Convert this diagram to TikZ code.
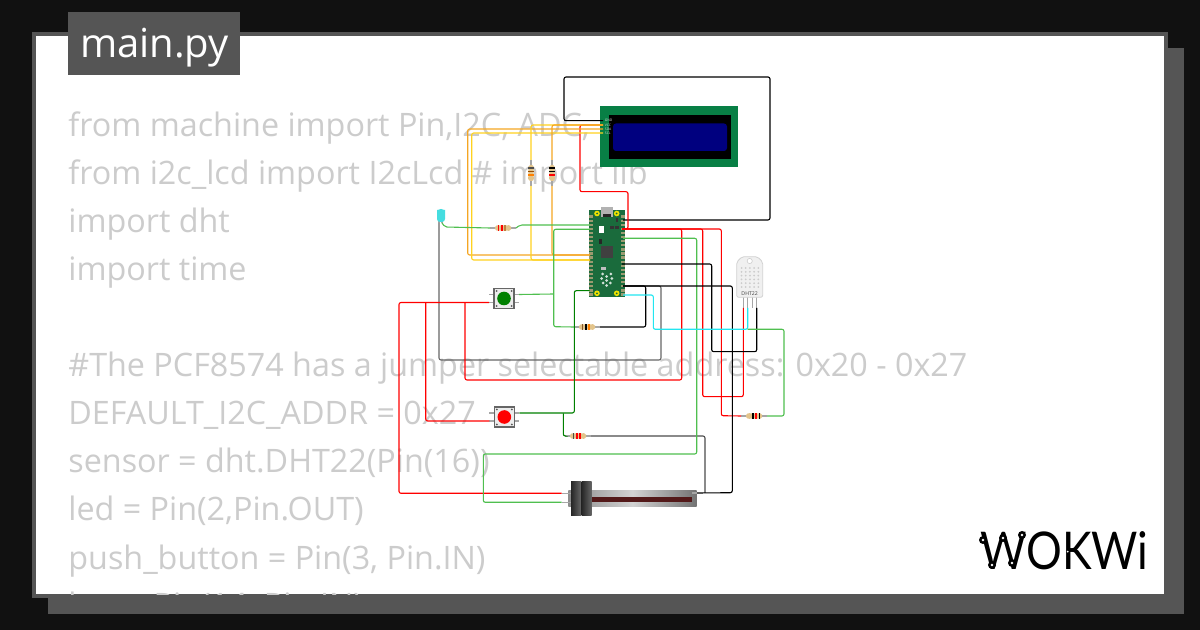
\documentclass[tikz,border=0pt]{standalone}
\usepackage{fontspec}
\setmainfont{Open Sans}
\newfontfamily\logofont{Lato}
\usetikzlibrary{calc}

\definecolor{framegray}{HTML}{555555}
\definecolor{pagedark}{HTML}{111111}
\definecolor{codegray}{HTML}{CCCCCC}
\definecolor{lcdgreen}{HTML}{087F45}
\definecolor{lcdblue}{HTML}{00007F}
\definecolor{picogreen}{HTML}{1A6B3C}
\definecolor{wiregreen}{HTML}{4FBF4F}
\definecolor{darkwire}{HTML}{008000}
\definecolor{wireyellow}{HTML}{FFD21F}
\definecolor{wireorange}{HTML}{F5A623}
\definecolor{wirecyan}{HTML}{22E6F0}
\definecolor{restan}{HTML}{E3C48B}
\definecolor{ledcyan}{HTML}{45DDE0}
\definecolor{padgray}{HTML}{9A9A70}

\tikzset{
  codeline/.style={anchor=base west,inner sep=0pt,text=codegray,font=\fontsize{16.15}{16}\selectfont},
  wire/.style={rounded corners=1pt,line width=.55pt},
  pin lead/.style={line width=.6pt,color=gray!70},
  pics/resist/.style n args={4}{code={
    \draw[pin lead] (-13,0) -- (13,0);
    \fill[restan,rounded corners=.8pt] (-8,-2.6) rectangle (8,2.6);
    \fill[#1] (-5.5,-2.6) rectangle (-3.6,2.6);
    \fill[#2] (-2.4,-2.6) rectangle (-.5,2.6);
    \fill[#3] (.7,-2.6) rectangle (2.6,2.6);
    \fill[#4] (4.5,-2.6) rectangle (6.2,2.6);
    \coordinate (-a) at (-13,0);
    \coordinate (-b) at (13,0);
  }},
  pics/pushbtn/.style={code={
    \draw[pin lead,line width=.8pt] (-15,-4) -- (15,-4) (-15,4) -- (15,4);
    \draw[gray!80!black,line width=.8pt,fill=gray!15] (-10,-10) rectangle (10,10);
    \fill[#1] (0,0) circle (6.8);
    \foreach \cx in {-7.5,7.5} \foreach \cy in {-7.5,7.5} \fill[gray!70!black] (\cx,\cy) circle (1);
    \coordinate (-l1) at (-15,-4);
    \coordinate (-l2) at (-15,4);
    \coordinate (-r1) at (15,-4);
    \coordinate (-r2) at (15,4);
  }}
}

\begin{document}
\begin{tikzpicture}[x=.5pt,y=-.5pt]
  \useasboundingbox (0,0) rectangle (1200,630);

  % Page and frame
  \fill[pagedark] (0,0) rectangle (1200,630);
  \fill[framegray] (48,48) rectangle (1184,614);
  \fill[white,draw=framegray,line width=2pt] (34,34) rectangle (1166,596);

  % Code behind the circuit
  \begin{scope}
    \clip (36,36) rectangle (1164,594);
    \node[codeline] (code1) at (68,137) {from machine import Pin,I2C, ADC,};
    \node[codeline] (code2) at (68,185) {from i2c\_lcd import I2cLcd \# import lib};
    \node[codeline] (code3) at (68,233) {import dht};
    \node[codeline] (code4) at (68,281) {import time};
    \node[codeline] (code6) at (68,377) {\#The PCF8574 has a jumper selectable address: 0x20 - 0x27};
    \node[codeline] (code7) at (68,425) {DEFAULT\_I2C\_ADDR = 0x27};
    \node[codeline] (code8) at (68,473) {sensor = dht.DHT22(Pin(16))};
    \node[codeline] (code9) at (68,521) {led = Pin(2,Pin.OUT)};
    \node[codeline] (code10) at (68,569) {push\_button = Pin(3, Pin.IN)};
    \node[codeline] (code11) at (68,617) {key = Pin(14, Pin.IN)};
  \end{scope}

  % Title tab
  \fill[framegray] (68,12) rectangle (240,75);
  \node[anchor=base,text=white,inner sep=0pt,font=\fontsize{20}{20}\selectfont] (title) at (154.5,58) {main.py};

  % LCD
  \fill[lcdgreen] (600,106) rectangle (737.5,167.5);
  \fill[black] (609,115.5) rectangle (731,159);
  \fill[lcdblue,rounded corners=1.5pt] (613,123.5) rectangle (727,151);
  \foreach \ly/\lt in {120.5/GND,125/VCC,129/SDA,133/SCL}
    \node[text=white!85!black,inner sep=0pt,anchor=west,font=\fontsize{1.7}{2}\selectfont] at (604.5,\ly) {\lt};

  % Pico board
  \fill[picogreen] (589,210) rectangle (624.5,297);
  \foreach \py in {0,...,19} {
    \fill[padgray] (589,{215.5+\py*4.1}) rectangle (592.5,{217.8+\py*4.1});
    \fill[padgray] (621,{215.5+\py*4.1}) rectangle (624.5,{217.8+\py*4.1});
  }
  \fill[gray!60] (601,206.7) rectangle (612.7,217);
  \fill[gray!30!black] (603,214) rectangle (610.5,217);
  \foreach \hx/\hy in {597/213.5,616.7/213.5,597/293.3,616.7/293.3} {
    \fill[yellow!85!olive] (\hx,\hy) circle (2.8);
    \fill[picogreen] (\hx,\hy) circle (1);
  }
  \fill[white] (598.5,226) rectangle (603.5,233);
  \fill[black!85] (598.5,239) rectangle (601.5,244.5);
  \fill[black!80] (610,226) rectangle (613.5,229.5);
  \fill[black!80] (615,226) rectangle (618.5,229.5);
  \fill[black!80] (615.5,218) rectangle (618,222);
  \fill[black!75] (600.5,246.5) rectangle (612.5,258.5);
  \fill[gray!50] (600.5,267) rectangle (605.5,270.5);
  \foreach \rx/\ry in {602.5/274,610.9/274,606.7/276.5,601.5/278.5,606.7/280.5,611.9/278.5,603/283,610.4/283,606.7/285.5}
    \fill[white!80!picogreen] (\rx,\ry) circle (1.5);

  % Named pin ends
  \coordinate (gnd3V) at (623,220);
  \coordinate (vbus) at (622,229);
  \coordinate (ledPin) at (590,225);
  \coordinate (btnPin) at (590,229.3);
  \coordinate (sclPin) at (590,255);
  \coordinate (sdaPin) at (590,260);
  \coordinate (redPin) at (589.5,290.7);
  \coordinate (adcPin) at (623,238.3);
  \coordinate (gndA) at (622,264);
  \coordinate (gndB) at (623,286);
  \coordinate (dhtPin) at (623,295);
  \coordinate (lcdGnd) at (603,120.7);
  \coordinate (lcdVcc) at (603,125);
  \coordinate (lcdSda) at (603,129);
  \coordinate (lcdScl) at (603,133);
  \coordinate (dhtVcc) at (743.3,308);
  \coordinate (dhtData) at (747.7,308);
  \coordinate (dhtGnd) at (756.7,308);
  \coordinate (ledA) at (442,223);
  \coordinate (ledC) at (439,223);
  \coordinate (sldVcc) at (561.7,493.3);
  \coordinate (sldSig) at (561.7,502.3);
  \coordinate (sldGnd) at (697,493);

  % Parts that wires end on
  \pic (rA) at (531,173) [rotate=-90] {resist={black!70}{orange!60!black}{orange}{restan}};
  \pic (rB) at (552,173) [rotate=-90] {resist={black}{black}{red}{restan}};
  \pic (rLed) at (503,228) {resist={red}{red}{brown}{restan}};
  \pic (rBtn) at (587,327) {resist={brown!70!black}{black}{orange}{restan}};
  \pic (rKey) at (578,436) {resist={black!70}{red}{red}{restan}};
  \pic (rDht) at (754,416) {resist={restan}{black}{red}{black}};
  \pic (btnG) at (504,298.5) {pushbtn=green!50!black};
  \pic (btnR) at (504.3,417) {pushbtn=red};

  % LED
  \draw[pin lead] (ledC) -- ++(0,-5) (ledA) -- ++(0,-5);
  \fill[ledcyan,rounded corners=1.5pt] (437,222) -- (437,213) arc[start angle=180,end angle=360,radius=4] -- (445,222) -- cycle;

  % DHT22
  \draw[pin lead] (743.3,296) -- (dhtVcc) (dhtData) -- (747.7,296) (752.3,296) -- (752.3,308) (dhtGnd) -- (756.7,296);
  \fill[gray!12,draw=gray!35,line width=.4pt,rounded corners=1pt]
    (736.7,262) -- (742,256.7) -- (757.5,256.7) -- (762.7,262) -- (762.7,297.3) -- (736.7,297.3) -- cycle;
  \fill[white,draw=gray!40,line width=.3pt] (749.7,261) circle (2.6);
  \foreach \gx in {0,...,4} \foreach \gy in {0,...,5}
    \fill[gray!40] ({741.5+\gx*4.2},{268+\gy*3.8}) circle (1);
  \node[inner sep=0pt,text=gray!50!black,font=\fontsize{2.6}{3}\selectfont] (dhtLabel) at (749.7,293.5) {DHT22};

  % Slider
  \shade[left color=gray!90,right color=gray!90!black,middle color=gray!35] (568.3,491) rectangle (696.7,506.7);
  \fill[black!75!red!90!white] (590.7,496.7) rectangle (691.7,501.7);
  \draw[pin lead] (sldVcc) -- (572,493.3) (sldSig) -- (572,502.3) (sldGnd) -- (692,493);
  \shade[left color=black!85,right color=black!60] (571,482) rectangle (581,515.3);
  \shade[left color=black!85,right color=black!60] (581.6,482) rectangle (591.7,515.3);

  % Wires to the LCD
  \draw[wire,black] (lcdGnd) -| (564,77) -| (770,220) -- (gnd3V);
  \draw[wire,red] (lcdVcc) -| (580,191.7) -| (628,229) -- (vbus);
  \draw[wire,wireorange] (lcdSda) -| (467.7,255) -- (sclPin);
  \draw[wire,wireyellow] (lcdScl) -| (471.7,260) -- (sdaPin);
  \draw[wire,wireyellow] (lcdVcc) -| (rA-a);
  \draw[wire,wireyellow] (rA-b) |- (sdaPin);
  \draw[wire,wireorange] (lcdVcc) -| (rB-a);
  \draw[wire,wireorange] (rB-b) |- (sclPin);

  % Wires for the LED
  \draw[wire,black!60] (ledC) |- (661,360) |- (gndB);
  \draw[wire,wiregreen] (ledA) -- (445,227) -- (rLed-a);
  \draw[wire,wiregreen] (rLed-b) -- (520,225) -- (ledPin);

  % Wires for the green button
  \draw[wire,wiregreen] (btnPin) -| (553.7,326.7) -- (rBtn-a);
  \draw[wire,wiregreen] (btnG-r1) -- (553.7,294);
  \draw[wire,black] (rBtn-b) -| (645.7,286) -- (gndB);

  % Red supply rail
  \draw[wire,red] (btnG-l2) -| (399,493.3) -- (sldVcc);
  \draw[wire,red] (425.7,302.7) |- (btnR-l2);
  \draw[wire,red] (465,302.7) |- (681.7,380) |- (vbus);
  \draw[wire,red] (vbus) -| (702.7,396.7) -| (dhtVcc);
  \draw[wire,red] (vbus) -| (721.3,415.7) -- (rDht-a);

  % Wires for the red button
  \draw[wire,darkwire] (btnR-r1) -| (574.3,290.7) -- (redPin);
  \draw[wire,darkwire] (563.3,413.3) |- (rKey-a);
  \draw[wire,black!70] (rKey-b) -| (705,493);

  % Wires for the slider
  \draw[wire,wiregreen] (adcPin) -| (696.7,454) -| (483.3,502.3) -- (sldSig);
  \draw[wire,black] (gndB) -| (732.3,492.7) -- (sldGnd);

  % Wires for the DHT22
  \draw[wire,black] (gndA) -| (711.7,351.7) -| (dhtGnd);
  \draw[wire,wirecyan] (dhtPin) -| (653.3,329.3) -| (dhtData);
  \draw[wire,wiregreen] (rDht-b) -| (784,329.3) -- (747.7,329.3);

  % Logo
  \node[anchor=base west,inner sep=0pt,font=\logofont\fontsize{26}{26}\selectfont] (logo) at (980,570) {\scalebox{.86}[1]{WOKWi}};
  \foreach \dx/\dy in {983/540,1003/538,1022/535,992/565,1012/563} {
    \fill[black] (\dx,\dy) circle (4);
    \fill[white] (\dx,\dy) circle (1.4);
  }
  \fill[white] (1067.7,551.7) circle (1);
\end{tikzpicture}
\end{document}
